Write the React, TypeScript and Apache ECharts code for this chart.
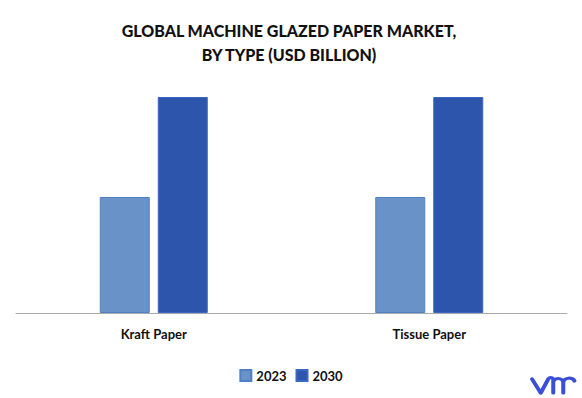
import React, { useEffect, useRef } from "react";
import * as echarts from "echarts";

const categories = ["Kraft Paper", "Tissue Paper"];
const seriesNames = ["2023", "2030"];
const values2023 = [11.6, 11.6];
const values2030 = [21.6, 21.6];
const titleText = "GLOBAL MACHINE GLAZED PAPER MARKET,\nBY TYPE (USD BILLION)";

const logoPath =
  "M0 2 L7 16 L13 2 M13 2 Q15 -1 17 2 L17 16 M17 6 C17 0 25 0 25 6 L25 16 M25 6 C25 0 33 0 34 4";

echarts.graphic.registerShape("logo", (echarts.graphic as any).extendPath(logoPath, {}));

export default function App() {
  const ref = useRef<HTMLDivElement>(null);
  useEffect(() => {
    if (!ref.current) return;
    const chart = echarts.init(ref.current, undefined, { renderer: "svg" });
    chart.setOption({
      animation: false,
      backgroundColor: "#ffffff",
      title: {
        text: titleText,
        left: 284,
        textAlign: "center",
        top: 13,
        textStyle: {
          fontFamily: "Lato",
          fontWeight: 900,
          fontSize: 16,
          lineHeight: 24,
          color: "#111111",
        },
      },
      legend: {
        data: seriesNames,
        bottom: 11,
        left: "center",
        itemWidth: 11,
        itemHeight: 11,
        itemGap: 9,
        textStyle: { fontFamily: "Lato", fontWeight: "bold", fontSize: 13, color: "#111" },
        icon: "rect",
      },
      grid: { left: 16, right: 15, top: 97, bottom: 85 },
      xAxis: {
        type: "category",
        data: categories,
        axisLine: { lineStyle: { color: "#aaaaaa", width: 1 } },
        axisTick: { show: false },
        axisLabel: {
          fontFamily: "Lato",
          fontWeight: "bold",
          fontSize: 13,
          color: "#111",
          margin: 14,
        },
      },
      yAxis: {
        type: "value",
        min: 0,
        max: 21.6,
        show: false,
        splitLine: { show: false },
      },
      series: [
        {
          name: "2023",
          type: "bar",
          data: values2023,
          barWidth: 50,
          barGap: "16%",
          itemStyle: { color: "#6993c8", borderColor: "#4f80c6", borderWidth: 1 },
        },
        {
          name: "2030",
          type: "bar",
          data: values2030,
          barWidth: 50,
          barGap: "16%",
          itemStyle: { color: "#2d55ab", borderColor: "#3c66c4", borderWidth: 1 },
        },
      ],
      graphic: [
        {
          type: "logo",
          x: 532,
          y: 377,
          scaleX: 1.25,
          scaleY: 1.0,
          style: { fill: "none", stroke: "#3a4fd6", lineWidth: 3.2, lineCap: "round", lineJoin: "round" },
        },
      ],
    });
    return () => chart.dispose();
  }, []);
  return <div ref={ref} style={{ width: 582, height: 398, position: "absolute", left: 0, top: 0 }} />;
}
